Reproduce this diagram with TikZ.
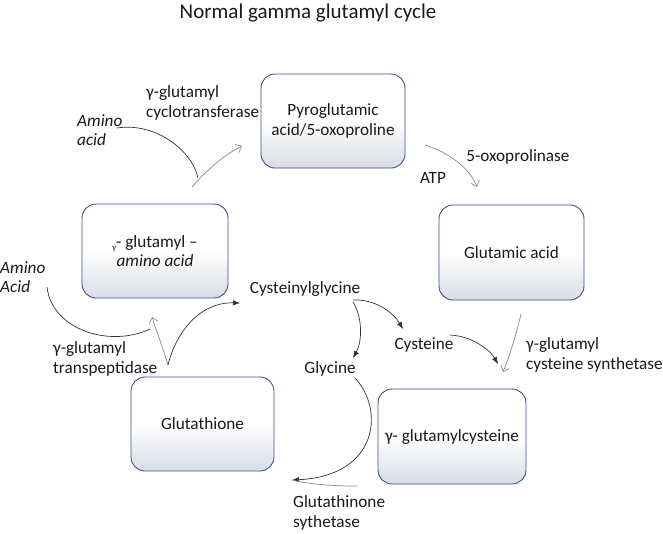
\documentclass[tikz,border=0pt]{standalone}
\usepackage{fontspec}
\setmainfont{Carlito}
\usetikzlibrary{arrows.meta}
\definecolor{boxblue}{HTML}{3F4F8F}
\definecolor{boxgray}{HTML}{D8DCE5}
\definecolor{txt}{HTML}{1A1A1A}
\definecolor{lgray}{HTML}{8A8A8A}
\definecolor{dline}{HTML}{333333}
\tikzset{
  box/.style={draw=boxblue, line width=0.9pt, rounded corners=14pt,
    top color=white, bottom color=boxgray, middle color=white,
    align=center, inner sep=0pt, text=txt,
    font=\fontsize{17.2}{19.5}\selectfont},
  lbl/.style={inner sep=0pt, text=txt, align=left,
    font=\fontsize{17.2}{19.5}\selectfont},
  ilbl/.style={lbl, font=\fontsize{17.2}{19.5}\selectfont\itshape},
  grayarrow/.style={draw=lgray, line width=0.7pt, -{Straight Barb[length=5pt,width=9pt]}},
  blackarrow/.style={draw=dline, line width=0.7pt, -{Latex[length=7pt,width=5.5pt]}},
  plainline/.style={draw=dline, line width=0.7pt},
  glline/.style={draw=lgray, line width=0.7pt},
}
\begin{document}
\begin{tikzpicture}[x=1pt,y=-1pt]
\useasboundingbox (0,0) rectangle (663,533);
\fill[white] (0,0) rectangle (663,533);

% title
\node[inner sep=0pt, text=txt, font=\fontsize{21}{25}\selectfont] (title) at (308,13) {Normal gamma glutamyl cycle};

% boxes
\node[box, minimum width=144pt, minimum height=94pt] (pyro) at (333,121) {Pyroglutamic\\acid/5-oxoproline};
\node[box, minimum width=145pt, minimum height=95pt] (glu) at (511.5,252.5) {Glutamic acid};
\node[box, minimum width=146pt, minimum height=94pt] (gaa) at (155,251) {\raisebox{-3pt}{\fontsize{9}{10}\selectfont γ}- glutamyl –\\\textit{amino acid}};
\node[box, minimum width=143pt, minimum height=94pt] (gsh) at (202.5,424) {Glutathione};
\node[box, minimum width=148pt, minimum height=95pt] (gcys) at (452,436.5) {γ- glutamylcysteine};

% labels
\node[lbl, anchor=west] (cyclo) at (146,103) {γ-glutamyl\\cyclotransferase};
\node[ilbl, anchor=west] (aa1) at (77,130) {Amino\\acid};
\node[lbl] (atp) at (433,178) {ATP};
\node[lbl] (oxo) at (518,157) {5-oxoprolinase};
\node[ilbl, anchor=west] (aa2) at (0,277) {Amino\\Acid};
\node[lbl, anchor=west] (transp) at (53,359) {γ-glutamyl\\transpeptidase};
\node[lbl] (cysgly) at (305,289) {Cysteinylglycine};
\node[lbl] (cys) at (424,345) {Cysteine};
\node[lbl] (gly) at (330,369) {Glycine};
\node[lbl, anchor=west] (gcs) at (526,355) {γ-glutamyl\\cysteine synthetase};
\node[lbl, anchor=west] (gss) at (293,513) {Glutathinone\\sythetase};

% coordinates
\coordinate (a1s) at (117,128);
\coordinate (a1e) at (198,178);
\coordinate (p1s) at (192,187);
\coordinate (p1e) at (242,146);
\coordinate (atps) at (425,145);
\coordinate (atpe) at (477,187);
\coordinate (g1s) at (521,314);
\coordinate (g1e) at (503,372);
\coordinate (cg1) at (353,300);
\coordinate (cge1) at (403,329);
\coordinate (cg2) at (353,302);
\coordinate (cge2) at (353,358);
\coordinate (cy1) at (450,335);
\coordinate (cye) at (498,364);
\coordinate (gl1) at (355,378);
\coordinate (gle) at (292,480);
\coordinate (gl2) at (357,486);
\coordinate (a2s) at (47,287);
\coordinate (a2e) at (150,329);
\coordinate (tp) at (168,365);
\coordinate (tpe1) at (152,317);
\coordinate (tpe2) at (240,303);

% connectors
\draw[plainline] (a1s) .. controls (155,122) and (192,150) .. (a1e);
\draw[grayarrow] (p1s) .. controls (205,172) and (222,156) .. (p1e);
\draw[grayarrow] (atps) .. controls (448,152) and (470,168) .. (atpe);
\draw[grayarrow] (g1s) .. controls (516,335) and (510,355) .. (g1e);
\draw[blackarrow] (cg1) .. controls (375,299) and (393,312) .. (cge1);
\draw[blackarrow] (cg2) .. controls (363,318) and (362,342) .. (cge2);
\draw[blackarrow] (cy1) .. controls (472,336) and (490,350) .. (cye);
\draw[blackarrow] (gl1) .. controls (385,410) and (378,476) .. (gle);
\draw[glline] (gl2) .. controls (330,486) and (308,484) .. (gle);
\draw[plainline] (a2s) .. controls (52,330) and (110,348) .. (a2e);
\draw[grayarrow] (tp) .. controls (162,345) and (156,330) .. (tpe1);
\draw[blackarrow] (tp) .. controls (176,332) and (200,302) .. (tpe2);
\end{tikzpicture}
\end{document}
